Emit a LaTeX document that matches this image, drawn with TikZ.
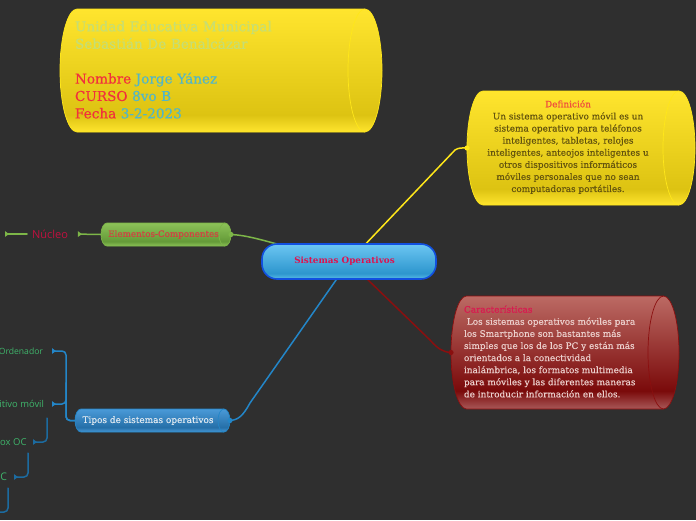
\documentclass[tikz,border=0pt]{standalone}
\usepackage{fontspec}
\setmainfont{DejaVu Serif}
\newfontfamily\heavy[FakeBold=0.35]{DejaVu Serif}
\newfontfamily\heavier[FakeBold=0.9]{DejaVu Serif}
\newfontfamily\lbl{Open Sans}
\usetikzlibrary{arrows.meta,backgrounds}
\definecolor{bgc}{HTML}{2F2F2F}
\definecolor{ylw}{HTML}{FFE52E}
\definecolor{ylwline}{HTML}{FFE71A}
\definecolor{redc}{HTML}{8A0F0F}
\definecolor{grnc}{HTML}{7DB648}
\definecolor{bluc}{HTML}{2386C8}
\definecolor{lblgrn}{HTML}{3FB56B}
\definecolor{ydark}{RGB}{221,195,18}
\pgfdeclareverticalshading{yshade}{100bp}{color(0bp)=(ylw);color(25bp)=(ylw);color(32bp)=(ydark);color(75bp)=(ylw);color(100bp)=(ylw)}
\definecolor{rtop}{HTML}{BC6A64}
\definecolor{rdark}{HTML}{7A0A0A}
\definecolor{rbot}{HTML}{A85858}
\pgfdeclareverticalshading{rshade}{100bp}{color(0bp)=(rbot);color(25bp)=(rbot);color(33bp)=(rdark);color(75bp)=(rtop);color(100bp)=(rtop)}
\definecolor{gtop}{HTML}{8CC258}
\definecolor{gdark}{HTML}{649A38}
\pgfdeclareverticalshading{gshade}{100bp}{color(0bp)=(gtop);color(25bp)=(gtop);color(35bp)=(gdark);color(75bp)=(gtop);color(100bp)=(gtop)}
\definecolor{btop}{HTML}{4A9AD8}
\definecolor{bdark}{HTML}{256FA8}
\pgfdeclareverticalshading{bshade}{100bp}{color(0bp)=(btop);color(25bp)=(btop);color(35bp)=(bdark);color(75bp)=(btop);color(100bp)=(btop)}
\definecolor{mtop}{HTML}{6CC6F2}
\definecolor{mdark}{HTML}{2D96CE}
\definecolor{mbot}{HTML}{5ABBE6}
\pgfdeclareverticalshading{mshade}{100bp}{color(0bp)=(mbot);color(25bp)=(mbot);color(33bp)=(mdark);color(75bp)=(mtop);color(100bp)=(mtop)}
% x0 x1 y0 y1 depth shading line
\newcommand\cylbody[7]{%
  \path[shading=#6,draw=#7,line width=.7pt]
    ({#1+#5},#3) -- ({#2-#5},#3)
    arc[start angle=90,end angle=-90,x radius=#5 pt,y radius={(#4-#3)/2 pt}]
    -- ({#1+#5},#4)
    arc[start angle=270,end angle=90,x radius=#5 pt,y radius={(#4-#3)/2 pt}] -- cycle;
  \draw[#7,line width=.7pt] ({#2-#5},#3)
    arc[start angle=90,end angle=270,x radius=#5 pt,y radius={(#4-#3)/2 pt}];
}
\tikzset{
  x=1pt,y=-1pt,
  >={Triangle[reversed,length=4pt,width=5.5pt]},
  plainbox/.style={inner sep=0pt,outer sep=0pt},
  conn/.style={line width=1.5pt,line cap=round},
  leaf/.style={font=\lbl\fontsize{#1}{#1}\selectfont,text=lblgrn,inner ysep=2pt,outer sep=0pt},
  title/.style={font=\heavy\fontsize{13.6}{17.4}\selectfont,align=left,plainbox,anchor=north west,text width=250pt},
}
\begin{document}
\begin{tikzpicture}
\useasboundingbox (0,0) rectangle (696,520);
\begin{scope}[on background layer]
\fill[bgc] (0,0) rectangle (696,520);
\end{scope}
% header cylinder
\cylbody{60}{382}{9}{132}{17}{yshade}{ylwline}
\node[title] (head) at (75,21) {\textcolor[HTML]{C6DE74}{Unidad Educativa Municipal}\\
\textcolor[HTML]{C6DE74}{Sebastián De Benalcázar}\\
\mbox{}\\
\textcolor[HTML]{F2303C}{Nombre} \textcolor[HTML]{52B6C8}{Jorge Yánez}\\
\textcolor[HTML]{F2303C}{CURSO} \textcolor[HTML]{52B6C8}{8vo B}\\
\textcolor[HTML]{F2303C}{Fecha} \textcolor[HTML]{52B6C8}{3-2-2023}};
% central
\node[plainbox,minimum width=174pt,minimum height=35pt,rounded corners=15pt,shading=mshade,draw={rgb,255:red,17;green,80;blue,224},line width=1.6pt,font=\bfseries\fontsize{8.8}{11}\selectfont,text={rgb,255:red,222;green,18;blue,80}] (main) at (349,261.5) {\hspace{-9pt}Sistemas Operativos};
% definition
\cylbody{467}{695}{91}{205}{16}{yshade}{ylwline}
\node[plainbox,minimum width=228pt,minimum height=114pt] (def) at (581,148) {};
\node[plainbox,align=center,font=\heavy\fontsize{8.9}{12.1}\selectfont,text={rgb,255:red,100;green,84;blue,14}] (deftext) at (568,147) {\textcolor[HTML]{F0503C}{\heavier Definición}\\
Un sistema operativo móvil es un\\
sistema operativo para teléfonos\\
inteligentes, tabletas, relojes\\
inteligentes, anteojos inteligentes u\\
otros dispositivos informáticos\\
móviles personales que no sean\\
computadoras portátiles.};
% caracteristicas
\cylbody{451}{679}{296}{409}{15.5}{rshade}{redc}
\node[plainbox,minimum width=228pt,minimum height=113pt] (car) at (565,352.5) {};
\node[plainbox,align=left,anchor=north west,font=\heavy\fontsize{8.9}{12.1}\selectfont,text={rgb,255:red,236;green,208;blue,205}] (cartext) at (464,305.5) {\textcolor[HTML]{D81B50}{\heavier Características}\\
\ Los sistemas operativos móviles para\\
los Smartphone son bastantes más\\
simples que los de los PC y están más\\
orientados a la conectividad\\
inalámbrica, los formatos multimedia\\
para móviles y las diferentes maneras\\
de introducir información en ellos.};
% elementos
\cylbody{101}{231}{223}{246}{6}{gshade}{grnc}
\node[plainbox,minimum width=130pt,minimum height=23pt,font=\heavy\fontsize{8.75}{10}\selectfont,text={rgb,255:red,208;green,66;blue,66}] (elem) at (166,234.5) {\hspace{-5pt}\raisebox{-1pt}{Elementos-Componentes}};
% tipos
\cylbody{75}{230}{409}{432}{6}{bshade}{bluc}
\node[plainbox,minimum width=155pt,minimum height=23pt,font=\heavy\fontsize{8.95}{10}\selectfont,text={rgb,255:red,222;green,232;blue,240}] (tipos) at (152.5,420.5) {\hspace{-9pt}\raisebox{-1pt}{Tipos de sistemas operativos}};
% leaves
\node[leaf=11,text={rgb,255:red,192;green,16;blue,63},inner xsep=5pt] (nucleo) at (50,234) {Núcleo};
\coordinate (nucleotip) at (5,234);
\node[leaf=8.6,anchor=east,inner xsep=9pt] (orden) at (52,351) {Ordenador};
\node[leaf=9.4,anchor=east,inner xsep=8pt] (movil) at (52,404) {itivo móvil};
\node[leaf=9.5,anchor=east,inner xsep=6.5pt] (xbox) at (33,442) {ox OC};
\node[leaf=10.5,anchor=east,inner xsep=7pt] (oc) at (14,477) {C};
\coordinate (trunk) at (66,380);
\coordinate (s1) at (47,418);
\coordinate (s2) at (28,453);
\coordinate (s3) at (8,488);
\coordinate (s3end) at (0,512);
% connectors
\begin{scope}[on background layer]
\draw[ylwline,conn] (main.center) -- (455,150) .. controls (459,147.5) and (461,148) .. (def.west);
\draw[redc,conn] (main.center) -- (430,340) .. controls (438,349) and (443,352) .. (car.west);
\draw[grnc,conn] (main.center) -- (277,244) .. controls (262,240) and (245,235) .. (elem.east);
\draw[bluc,conn] (main.center) -- (250,403) .. controls (243,416) and (238,420) .. (tipos.east);
\draw[grnc,conn,->,shorten >=5pt] (elem.west) -- (nucleo.east);
\draw[grnc,conn,->] (nucleo.west) -- (nucleotip);
\draw[bluc,conn,rounded corners=4pt,->] (tipos.west) -| (trunk) |- (orden.east);
\draw[bluc,conn,rounded corners=4pt,->] (tipos.west) -| (trunk) |- (movil.east);
\draw[bluc!80!black,conn,rounded corners=4pt,->] (s1) |- (xbox.east);
\draw[bluc!80!black,conn,rounded corners=4pt,->] (s2) |- (oc.east);
\draw[bluc!80!black,conn,rounded corners=4pt] (s3) |- (s3end);
\end{scope}
\fill[ylwline] (def.west) circle (2.6pt);
\fill[redc] (car.west) circle (2.6pt);
\fill[grnc] (elem.east) circle (2.6pt);
\fill[bluc] (tipos.east) circle (2.6pt);
\end{tikzpicture}
\end{document}
